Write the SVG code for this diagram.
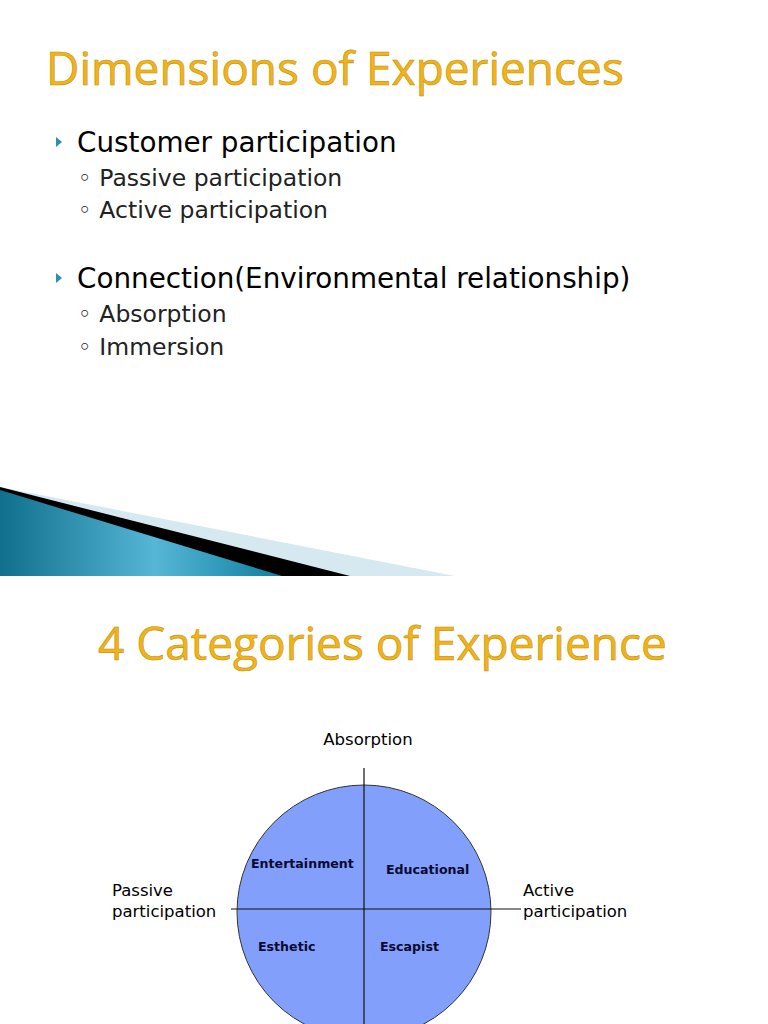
<svg xmlns="http://www.w3.org/2000/svg" width="768" height="1024" viewBox="0 0 768 1024">
<style>
.title{font-family:"Open Sans","DejaVu Sans",sans-serif;font-size:46px;fill:#f0b418;stroke:#c8900a;stroke-width:0.6}
.l1{font-family:"DejaVu Sans",sans-serif;font-size:27.8px;fill:#000}
.l2{font-family:"DejaVu Sans",sans-serif;font-size:23.5px;fill:#222}
.lab{font-family:"DejaVu Sans",sans-serif;font-size:16.5px;fill:#000}
.q{font-family:"DejaVu Sans",sans-serif;font-size:12.6px;font-weight:bold;fill:#0a0a30}
</style>
<defs>
<linearGradient id="tg" x1="0" y1="0" x2="1" y2="0">
<stop offset="0" stop-color="#0f6f8c"/><stop offset="0.55" stop-color="#56b6d6"/><stop offset="1" stop-color="#0f7fa0"/>
</linearGradient>
</defs>
<rect width="768" height="1024" fill="#fff"/>
<text class="title" x="46" y="85">Dimensions of Experiences</text>
<path d="M56 137 l6 5 l-6 5z" fill="#2a8fb0"/>
<text class="l1" x="77" y="152">Customer participation</text>
<text class="l2" x="78" y="186">◦ Passive participation</text>
<text class="l2" x="78" y="218">◦ Active participation</text>
<path d="M56 273 l6 5 l-6 5z" fill="#2a8fb0"/>
<text class="l1" x="77" y="288">Connection(Environmental relationship)</text>
<text class="l2" x="78" y="322">◦ Absorption</text>
<text class="l2" x="78" y="355">◦ Immersion</text>
<g id="decor">
<polygon points="0,487 455,576 0,576" fill="#d6e8f0"/>
<polygon points="0,487 350,576 0,576" fill="#000"/>
<polygon points="0,490 282,576 0,576" fill="url(#tg)"/>
</g>
<text class="title" x="98" y="660">4 Categories of Experience</text>
<g id="circle"><circle cx="364" cy="912" r="127" fill="#829ffc" stroke="#333" stroke-width="1"/></g>
<g id="axes" stroke="#111" stroke-width="1.2">
<line x1="364" y1="768" x2="364" y2="1024"/>
<line x1="231" y1="909" x2="521" y2="909"/>
</g>
<text class="lab" x="368" y="745" text-anchor="middle">Absorption</text>
<text class="lab" x="112" y="896">Passive</text>
<text class="lab" x="112" y="917">participation</text>
<text class="lab" x="523" y="896">Active</text>
<text class="lab" x="523" y="917">participation</text>
<g id="q1"><text class="q" x="251" y="868">Entertainment</text></g>
<g id="q2"><text class="q" x="386" y="874">Educational</text></g>
<g id="q3"><text class="q" x="258" y="951">Esthetic</text></g>
<g id="q4"><text class="q" x="380" y="951">Escapist</text></g>
</svg>
